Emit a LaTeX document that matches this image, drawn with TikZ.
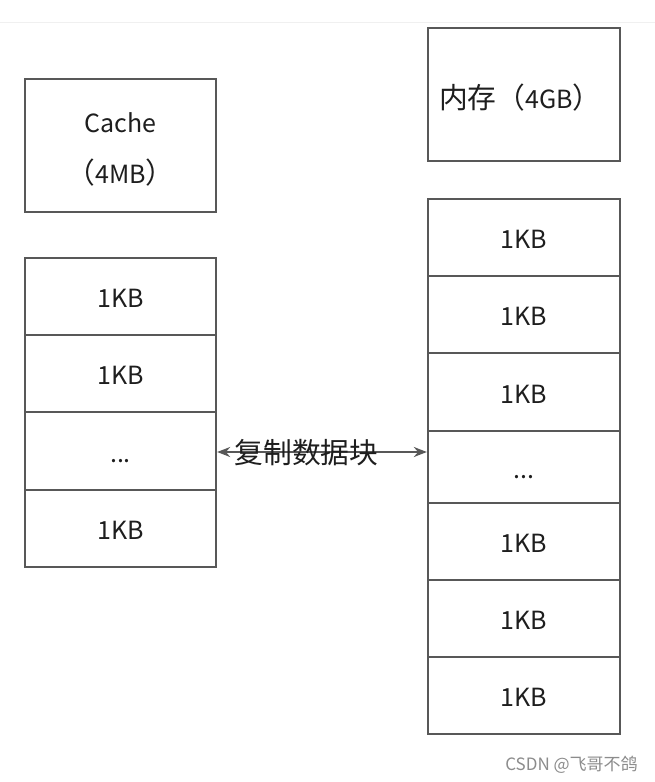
\documentclass[tikz,border=0pt]{standalone}
\usepackage{fontspec}
\setmainfont{Noto Sans CJK SC}
\newfontfamily\cjk[Scale=1.15]{Noto Sans CJK SC}
\usetikzlibrary{arrows.meta}
\definecolor{edge}{HTML}{585858}
\definecolor{ink}{HTML}{1e1e1e}
\begin{document}
\begin{tikzpicture}[x=1pt,y=-1pt,
  box/.style={draw=edge,line width=2.3pt,inner sep=0pt,text=ink,
    font=\fontsize{25}{30}\selectfont,minimum width=191pt,minimum height=77pt,
    text height=24pt,text depth=2pt},
  tall/.style={minimum height=133pt,text height=,text depth=},
  txt/.style={text=ink,inner sep=0pt},
  conn/.style={draw=edge,line width=2pt,{Stealth[length=13pt,width=10pt]}-{Stealth[length=13pt,width=10pt]}}
]
\path[fill=white,use as bounding box] (0,0) rectangle (655,782);
\draw[color=black!6,line width=1pt] (0,22) -- (655,22);
% left column
\node[box,tall] (cache) at (120.5,145.5) {};
\node[txt,align=center,font=\fontsize{25}{51}\selectfont] (cachet) at (120.5,149) {Cache\\{\cjk （}4MB{\cjk ）}};
\node[box] (l1) at (120.5,296.5) {1KB};
\node[box] (l2) at (120.5,373.5) {1KB};
\node[box,minimum height=78pt] (l3) at (120.5,451) {...};
\node[box] (l4) at (120.5,528.5) {1KB};
% right column
\node[box,tall,minimum width=192pt] (mem) at (524,94.5) {};
\node[txt,font=\fontsize{25}{30}\selectfont,anchor=west] (memt) at (439,98) {{\cjk 内存（}4GB{\cjk ）}};
\node[box,minimum width=192pt] (r1) at (524,237.5) {1KB};
\node[box,minimum width=192pt] (r2) at (524,314.5) {1KB};
\node[box,minimum width=192pt,minimum height=78pt] (r3) at (524,392) {1KB};
\node[box,minimum width=192pt,minimum height=72pt] (r4) at (524,467) {...};
\node[box,minimum width=192pt] (r5) at (524,541.5) {1KB};
\node[box,minimum width=192pt] (r6) at (524,618.5) {1KB};
\node[box,minimum width=192pt] (r7) at (524,695.5) {1KB};
% connector
\coordinate (ae) at (l3.east -| r4.west);
\draw[conn] ([yshift=-1pt]l3.east) -- ([yshift=-1pt]ae);
\node[txt,font=\cjk\fontsize{25}{30}\selectfont] (lbl) at (306.5,453) {复制数据块};
% watermark
\node[text=black!45,font=\fontsize{17}{19}\selectfont,inner sep=0pt] (wm) at (571.5,765) {CSDN @飞哥不鸽};
\end{tikzpicture}
\end{document}
